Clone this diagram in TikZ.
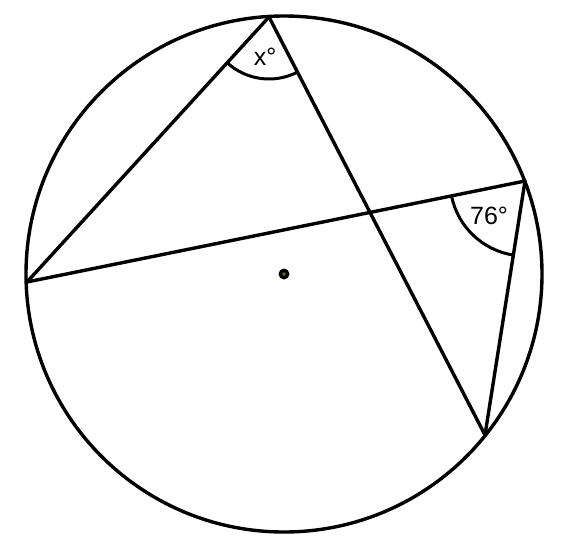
\documentclass[tikz,border=0pt]{standalone}
\usepackage{fontspec}
\setmainfont{Liberation Sans}
\usetikzlibrary{angles}
\definecolor{dotolive}{RGB}{110,110,0}
\begin{document}
\begin{tikzpicture}[x=1pt,y=-1pt,
  seg/.style={line width=3.4pt,line cap=round,line join=round},
  anglemark/.style={draw,line width=3pt},
  lbl/.style={font=\fontsize{25pt}{28pt}\selectfont,inner sep=0pt}]
\useasboundingbox (0,0) rectangle (572,554);
\coordinate (O) at (284,274);
\coordinate (A) at (269,17);
\coordinate (B) at (27,282);
\coordinate (C) at (525,181);
\coordinate (D) at (485,435);
\draw[seg] (O) circle[radius=258];
\draw[seg] (A) -- (B);
\draw[seg] (A) -- (D);
\draw[seg] (B) -- (C);
\draw[seg] (C) -- (D);
\pic[anglemark,angle radius=62pt] {angle = B--A--D};
\pic[anglemark,angle radius=75pt] {angle = B--C--D};
\node[lbl] (xl) at (265,57) {x°};
\node[lbl] (sl) at (489,216) {76°};
\fill[black] (O) circle[radius=5.5];
\fill[dotolive] (O) circle[radius=1.8];
\end{tikzpicture}
\end{document}
